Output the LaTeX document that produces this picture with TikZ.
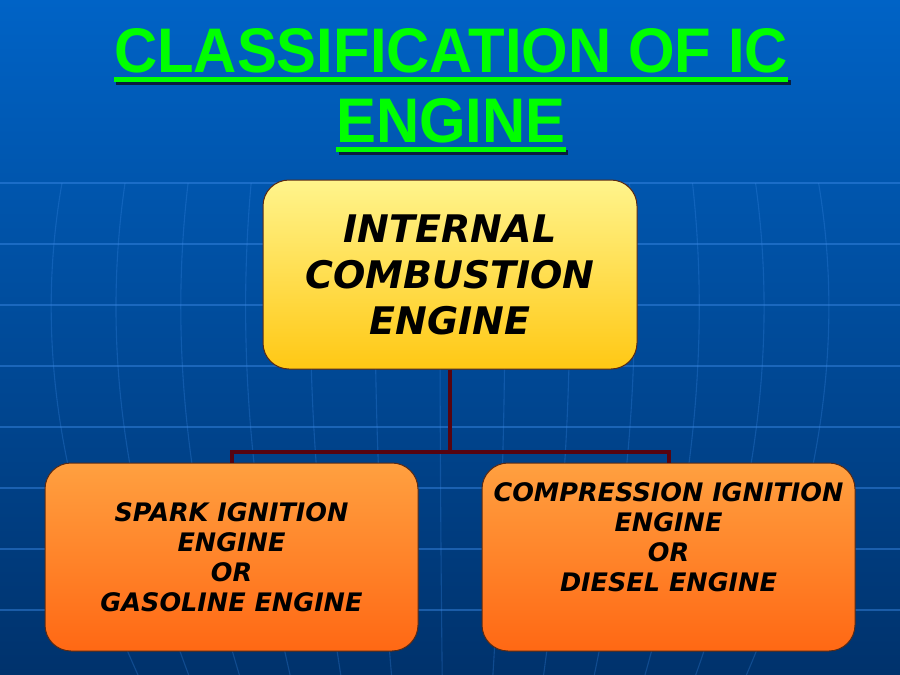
\documentclass[tikz,border=0pt]{standalone}
\usepackage{fontspec}
\usepackage{graphicx}
\usetikzlibrary{positioning,calc}
\newfontfamily\titlefont{Liberation Sans}
\newfontfamily\boxfont{DejaVu Sans}
\definecolor{ic-bgtop}{HTML}{0063C6}
\definecolor{ic-bgmid}{HTML}{0054AE}
\definecolor{ic-bgbot}{HTML}{00326C}
\definecolor{ic-grid}{HTML}{3D8BE8}
\definecolor{ic-green}{HTML}{00FF00}
\definecolor{ic-shadow}{HTML}{0A1E3C}
\definecolor{ic-yellowtop}{HTML}{FFF48C}
\definecolor{ic-yellowbot}{HTML}{FFC814}
\definecolor{ic-orangetop}{HTML}{FFA040}
\definecolor{ic-orangebot}{HTML}{FF6814}
\definecolor{ic-link}{HTML}{560410}
\definecolor{ic-border}{HTML}{5A2A14}
\newcommand{\titletext}[1]{\scalebox{0.95}[1]{#1}}

\begin{document}
\begin{tikzpicture}[x=1pt,y=-1pt,
    title/.style={inner sep=0pt,anchor=base,text=ic-green,font={\titlefont\bfseries\fontsize{63}{63}\selectfont}},
    enginebox/.style={draw=ic-border,line width=1pt,rounded corners=26pt,align=center,inner sep=0pt},
    topbox/.style={enginebox,minimum width=374pt,minimum height=189pt,
      top color=ic-yellowtop,bottom color=ic-yellowbot,
      font={\boxfont\bfseries\itshape\fontsize{38}{46}\selectfont}},
    sidebox/.style={enginebox,minimum width=373pt,minimum height=188pt,
      top color=ic-orangetop,bottom color=ic-orangebot,
      font={\boxfont\bfseries\itshape\fontsize{25.5}{30}\selectfont}},
    gridline/.style={ic-grid,line width=1.3pt,opacity=0.45},
    meridian/.style={ic-grid,line width=1.1pt,opacity=0.28},
    link/.style={ic-link,line width=4pt}
  ]
  \useasboundingbox (0,0) rectangle (900,675);
  % background
  \shade[top color=ic-bgtop,middle color=ic-bgmid,bottom color=ic-bgbot] (0,0) rectangle (900,675);
  \begin{scope}
    \clip (0,0) rectangle (900,675);
    \foreach \gy in {183,244,...,610}
      \draw[gridline] (0,\gy) -- (900,\gy);
    \foreach \gx in {50,115,...,840}
      \draw[meridian] ({450+(\gx-450)*0.97},183) .. controls ({450+(\gx-450)*1.03},320) and ({450+(\gx-450)*1.0},480) .. ({450+(\gx-450)*0.78},675);
  \end{scope}

  % title
  \node[title] (t1) at (451,72) {\titletext{CLASSIFICATION OF IC}};
  \node[title] (t2) at (451,142) {\titletext{ENGINE}};
  \foreach \tl in {t1,t2} {
    \fill[ic-shadow] ($(\tl.base west)+(2.5,7.5)$) rectangle ($(\tl.base east)+(2.5,12.5)$);
    \fill[ic-green] ($(\tl.base west)+(0,5)$) rectangle ($(\tl.base east)+(0,10)$);
  }

  % boxes
  \node[topbox] (ice) at (450,274.5) {INTERNAL\\COMBUSTION\\ENGINE};
  \node[sidebox] (si) at (231.5,557) {SPARK IGNITION\\ENGINE\\OR\\GASOLINE ENGINE};
  \node[sidebox] (ci) at (668.5,557) {COMPRESSION IGNITION\\ENGINE\\OR\\DIESEL ENGINE\\ \strut};

  % connectors
  \coordinate (bus) at (450,452);
  \draw[link] (ice.south) -- (bus);
  \draw[link] (si.north) |- (bus) -| (ci.north);
\end{tikzpicture}
\end{document}
